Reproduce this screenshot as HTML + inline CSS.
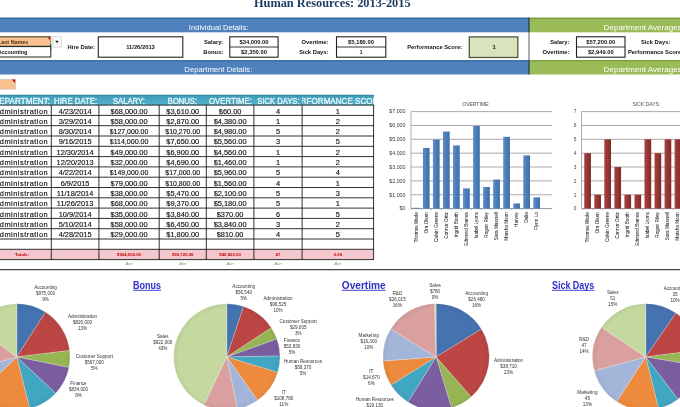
<!DOCTYPE html>
<html><head><meta charset="utf-8"><title>Human Resources: 2013-2015</title>
<style>html,body{margin:0;padding:0;background:#fff;overflow:hidden}svg{display:block;filter:blur(0.55px)}</style>
</head><body>
<svg width="680" height="407" viewBox="0 0 680 407">
<defs>
<linearGradient id="barb" x1="0" x2="1" y1="0" y2="0"><stop offset="0" stop-color="#5d8ec8"/><stop offset="0.5" stop-color="#4b7cb8"/><stop offset="1" stop-color="#3f6da6"/></linearGradient>
<linearGradient id="barr" x1="0" x2="1" y1="0" y2="0"><stop offset="0" stop-color="#a8413e"/><stop offset="0.5" stop-color="#943634"/><stop offset="1" stop-color="#7f2b29"/></linearGradient>
<radialGradient id="pieshade" cx="0.5" cy="0.5" r="0.5"><stop offset="0" stop-color="#000" stop-opacity="0"/><stop offset="0.9" stop-color="#000" stop-opacity="0"/><stop offset="1" stop-color="#000" stop-opacity="0.05"/></radialGradient>
<linearGradient id="hdr" x1="0" x2="0" y1="0" y2="1"><stop offset="0" stop-color="#3b9ab6"/><stop offset="1" stop-color="#56b3cd"/></linearGradient>
</defs>
<rect x="0.00" y="0.00" width="680.00" height="407.00" fill="#fff" stroke="none" stroke-width="1" />
<text x="332.30" y="7.40" font-size="12.33" text-anchor="middle" fill="#1f3a63" font-weight="bold" font-family='"Liberation Serif", serif' >Human Resources: 2013-2015</text>
<rect x="0.00" y="17.70" width="529.00" height="14.60" fill="#4f81bd" stroke="none" stroke-width="1" />
<rect x="0.00" y="60.30" width="529.00" height="14.20" fill="#4f81bd" stroke="none" stroke-width="1" />
<rect x="529.00" y="17.70" width="152.00" height="14.60" fill="#9bbb59" stroke="none" stroke-width="1" />
<rect x="529.00" y="60.30" width="152.00" height="14.20" fill="#9bbb59" stroke="none" stroke-width="1" />
<line x1="0.00" y1="18.20" x2="529.00" y2="18.20" stroke="#2f5d96" stroke-width="1.1"/>
<line x1="529.00" y1="18.20" x2="680.00" y2="18.20" stroke="#6f8f33" stroke-width="1.1"/>
<line x1="0.00" y1="60.80" x2="529.00" y2="60.80" stroke="#2f5d96" stroke-width="1.1"/>
<line x1="529.00" y1="60.80" x2="680.00" y2="60.80" stroke="#6f8f33" stroke-width="1.1"/>
<line x1="529.00" y1="17.50" x2="529.00" y2="32.30" stroke="#1f3a4f" stroke-width="1.2"/>
<line x1="529.00" y1="32.30" x2="529.00" y2="60.30" stroke="#777" stroke-width="1.2"/>
<line x1="529.00" y1="60.30" x2="529.00" y2="74.50" stroke="#1f3a4f" stroke-width="1.2"/>
<text x="218.60" y="30.40" font-size="7.6" text-anchor="middle" fill="#fff" font-weight="normal" font-family='"Liberation Sans", sans-serif' >Individual Details:</text>
<text x="218.30" y="71.80" font-size="7.7" text-anchor="middle" fill="#fff" font-weight="normal" font-family='"Liberation Sans", sans-serif' >Department Details:</text>
<text x="603.60" y="30.20" font-size="8.1" text-anchor="start" fill="#fff" font-weight="normal" font-family='"Liberation Sans", sans-serif' >Department Averages:</text>
<text x="603.60" y="71.70" font-size="8.1" text-anchor="start" fill="#fff" font-weight="normal" font-family='"Liberation Sans", sans-serif' >Department Averages:</text>
<rect x="-2.00" y="36.90" width="52.80" height="9.50" fill="#fac090" stroke="#8a7a5a" stroke-width="0.8" />
<line x1="0.00" y1="36.80" x2="50.80" y2="36.80" stroke="#4a5a2a" stroke-width="1.1"/>
<line x1="0.00" y1="46.40" x2="50.80" y2="46.40" stroke="#2f4f2a" stroke-width="1.2"/>
<path d="M47.2 37.5 h2.6 v2.6 z" fill="#c00000"/>
<rect x="-2.00" y="46.60" width="52.80" height="10.40" fill="#fff" stroke="#222" stroke-width="1" />
<line x1="50.60" y1="44.00" x2="50.60" y2="50.00" stroke="#1e6b2e" stroke-width="1.2"/>
<text x="28.30" y="44.00" font-size="5.4" text-anchor="end" fill="#4a2f10" font-weight="bold" font-family='"Liberation Sans", sans-serif' >Last Names</text>
<text x="27.30" y="54.30" font-size="5.4" text-anchor="end" fill="#111" font-weight="bold" font-family='"Liberation Sans", sans-serif' >Accounting</text>
<rect x="53.00" y="36.60" width="8.40" height="10.60" fill="#fafafa" stroke="#aaa" stroke-width="0.7" stroke-dasharray="1.2 0.8"/>
<path d="M55.2 40.8 h3.6 l-1.8 2.4 z" fill="#222"/>
<text x="95.00" y="48.70" font-size="5.8" text-anchor="end" fill="#111" font-weight="bold" font-family='"Liberation Sans", sans-serif' >Hire Date:</text>
<rect x="98.30" y="36.80" width="84.50" height="20.40" fill="#fff" stroke="#222" stroke-width="1.1" />
<text x="140.50" y="48.70" font-size="5.8" text-anchor="middle" fill="#111" font-weight="bold" font-family='"Liberation Sans", sans-serif' >11/26/2013</text>
<text x="223.30" y="44.00" font-size="5.8" text-anchor="end" fill="#111" font-weight="bold" font-family='"Liberation Sans", sans-serif' >Salary:</text>
<text x="223.30" y="54.20" font-size="5.8" text-anchor="end" fill="#111" font-weight="bold" font-family='"Liberation Sans", sans-serif' >Bonus:</text>
<rect x="229.80" y="36.80" width="48.30" height="20.40" fill="#fff" stroke="#222" stroke-width="1.1" />
<line x1="229.80" y1="47.00" x2="278.10" y2="47.00" stroke="#222" stroke-width="0.9"/>
<text x="254.00" y="44.00" font-size="5.8" text-anchor="middle" fill="#111" font-weight="bold" font-family='"Liberation Sans", sans-serif' >$34,000.00</text>
<text x="254.00" y="54.20" font-size="5.8" text-anchor="middle" fill="#111" font-weight="bold" font-family='"Liberation Sans", sans-serif' >$2,350.00</text>
<text x="328.50" y="44.00" font-size="5.8" text-anchor="end" fill="#111" font-weight="bold" font-family='"Liberation Sans", sans-serif' >Overtime:</text>
<text x="328.50" y="54.20" font-size="5.8" text-anchor="end" fill="#111" font-weight="bold" font-family='"Liberation Sans", sans-serif' >Sick Days:</text>
<rect x="336.50" y="36.80" width="49.30" height="20.40" fill="#fff" stroke="#222" stroke-width="1.1" />
<line x1="336.50" y1="47.00" x2="385.80" y2="47.00" stroke="#222" stroke-width="0.9"/>
<text x="361.00" y="44.00" font-size="5.8" text-anchor="middle" fill="#111" font-weight="bold" font-family='"Liberation Sans", sans-serif' >$5,180.00</text>
<text x="361.00" y="54.20" font-size="5.8" text-anchor="middle" fill="#1f3a63" font-weight="bold" font-family='"Liberation Sans", sans-serif' >1</text>
<text x="462.30" y="48.70" font-size="5.8" text-anchor="end" fill="#111" font-weight="bold" font-family='"Liberation Sans", sans-serif' >Performance Score:</text>
<rect x="469.30" y="36.90" width="48.50" height="20.60" fill="#d7e4bd" stroke="#4f5540" stroke-width="1.3" />
<text x="494.00" y="48.70" font-size="5.8" text-anchor="middle" fill="#111" font-weight="bold" font-family='"Liberation Sans", sans-serif' >1</text>
<text x="569.50" y="44.00" font-size="5.8" text-anchor="end" fill="#111" font-weight="bold" font-family='"Liberation Sans", sans-serif' >Salary:</text>
<text x="569.50" y="54.20" font-size="5.8" text-anchor="end" fill="#111" font-weight="bold" font-family='"Liberation Sans", sans-serif' >Overtime:</text>
<rect x="576.50" y="36.80" width="48.50" height="20.40" fill="#fff" stroke="#222" stroke-width="1.1" />
<line x1="576.50" y1="47.00" x2="625.00" y2="47.00" stroke="#222" stroke-width="0.9"/>
<text x="600.80" y="44.00" font-size="5.8" text-anchor="middle" fill="#111" font-weight="bold" font-family='"Liberation Sans", sans-serif' >$57,200.00</text>
<text x="600.80" y="54.20" font-size="5.8" text-anchor="middle" fill="#111" font-weight="bold" font-family='"Liberation Sans", sans-serif' >$2,949.00</text>
<text x="641.00" y="44.00" font-size="5.8" text-anchor="start" fill="#111" font-weight="bold" font-family='"Liberation Sans", sans-serif' >Sick Days:</text>
<text x="628.00" y="54.20" font-size="5.8" text-anchor="start" fill="#111" font-weight="bold" font-family='"Liberation Sans", sans-serif' >Performance Score:</text>
<rect x="-2.00" y="79.50" width="17.30" height="9.70" fill="#fac090" stroke="#bfbfbf" stroke-width="0.6" />
<path d="M11.8 79.6 h3.4 v3.4 z" fill="#c00000"/>
<rect x="0.00" y="94.90" width="373.90" height="10.20" fill="url(#hdr)" stroke="none" stroke-width="1" />
<line x1="0.00" y1="95.30" x2="373.90" y2="95.30" stroke="#31859c" stroke-width="0.8"/>
<clipPath id="hc"><rect x="0" y="90" width="374" height="20"/></clipPath>
<clipPath id="pc"><rect x="302.3" y="90" width="71.5" height="20"/></clipPath>
<text x="-6.50" y="104.20" font-size="8.6" text-anchor="start" fill="#eaf7fb" font-weight="normal" font-family='"Liberation Sans", sans-serif' textLength="56.5" lengthAdjust="spacingAndGlyphs" stroke="#eaf7fb" stroke-width="0.3" >DEPARTMENT:</text>
<text x="54.00" y="104.20" font-size="8.6" text-anchor="start" fill="#eaf7fb" font-weight="normal" font-family='"Liberation Sans", sans-serif' textLength="43.2" lengthAdjust="spacingAndGlyphs" stroke="#eaf7fb" stroke-width="0.3" >HIRE DATE:</text>
<text x="113.00" y="104.20" font-size="8.6" text-anchor="start" fill="#eaf7fb" font-weight="normal" font-family='"Liberation Sans", sans-serif' textLength="31.8" lengthAdjust="spacingAndGlyphs" stroke="#eaf7fb" stroke-width="0.3" >SALARY:</text>
<text x="167.80" y="104.20" font-size="8.6" text-anchor="start" fill="#eaf7fb" font-weight="normal" font-family='"Liberation Sans", sans-serif' textLength="29.2" lengthAdjust="spacingAndGlyphs" stroke="#eaf7fb" stroke-width="0.3" >BONUS:</text>
<text x="209.00" y="104.20" font-size="8.6" text-anchor="start" fill="#eaf7fb" font-weight="normal" font-family='"Liberation Sans", sans-serif' textLength="43.0" lengthAdjust="spacingAndGlyphs" stroke="#eaf7fb" stroke-width="0.3" >OVERTIME:</text>
<text x="257.30" y="104.20" font-size="8.6" text-anchor="start" fill="#eaf7fb" font-weight="normal" font-family='"Liberation Sans", sans-serif' textLength="42.3" lengthAdjust="spacingAndGlyphs" stroke="#eaf7fb" stroke-width="0.3" >SICK DAYS:</text>
<text x="290.00" y="104.20" font-size="8.6" text-anchor="start" fill="#eaf7fb" font-weight="normal" font-family='"Liberation Sans", sans-serif' textLength="96.0" lengthAdjust="spacingAndGlyphs" stroke="#eaf7fb" stroke-width="0.3" clip-path="url(#pc)">PERFORMANCE SCORE:</text>
<rect x="0.00" y="249.30" width="373.60" height="10.30" fill="#f4c6cd" stroke="none" stroke-width="1" />
<line x1="0.00" y1="105.10" x2="373.90" y2="105.10" stroke="#1a1a1a" stroke-width="0.9"/>
<line x1="0.00" y1="115.40" x2="373.90" y2="115.40" stroke="#1a1a1a" stroke-width="0.9"/>
<line x1="0.00" y1="125.70" x2="373.90" y2="125.70" stroke="#1a1a1a" stroke-width="0.9"/>
<line x1="0.00" y1="136.00" x2="373.90" y2="136.00" stroke="#1a1a1a" stroke-width="0.9"/>
<line x1="0.00" y1="146.30" x2="373.90" y2="146.30" stroke="#1a1a1a" stroke-width="0.9"/>
<line x1="0.00" y1="156.60" x2="373.90" y2="156.60" stroke="#1a1a1a" stroke-width="0.9"/>
<line x1="0.00" y1="166.90" x2="373.90" y2="166.90" stroke="#1a1a1a" stroke-width="0.9"/>
<line x1="0.00" y1="177.20" x2="373.90" y2="177.20" stroke="#1a1a1a" stroke-width="0.9"/>
<line x1="0.00" y1="187.50" x2="373.90" y2="187.50" stroke="#1a1a1a" stroke-width="0.9"/>
<line x1="0.00" y1="197.80" x2="373.90" y2="197.80" stroke="#1a1a1a" stroke-width="0.9"/>
<line x1="0.00" y1="208.10" x2="373.90" y2="208.10" stroke="#1a1a1a" stroke-width="0.9"/>
<line x1="0.00" y1="218.40" x2="373.90" y2="218.40" stroke="#1a1a1a" stroke-width="0.9"/>
<line x1="0.00" y1="228.70" x2="373.90" y2="228.70" stroke="#1a1a1a" stroke-width="0.9"/>
<line x1="0.00" y1="239.00" x2="373.90" y2="239.00" stroke="#1a1a1a" stroke-width="0.9"/>
<line x1="0.00" y1="249.30" x2="373.90" y2="249.30" stroke="#1a1a1a" stroke-width="0.9"/>
<line x1="0.00" y1="259.60" x2="373.90" y2="259.60" stroke="#1a1a1a" stroke-width="0.9"/>
<line x1="51.30" y1="105.10" x2="51.30" y2="259.60" stroke="#1a1a1a" stroke-width="0.9"/>
<line x1="98.90" y1="105.10" x2="98.90" y2="259.60" stroke="#1a1a1a" stroke-width="0.9"/>
<line x1="159.20" y1="105.10" x2="159.20" y2="259.60" stroke="#1a1a1a" stroke-width="0.9"/>
<line x1="206.30" y1="105.10" x2="206.30" y2="259.60" stroke="#1a1a1a" stroke-width="0.9"/>
<line x1="253.90" y1="105.10" x2="253.90" y2="259.60" stroke="#1a1a1a" stroke-width="0.9"/>
<line x1="302.10" y1="105.10" x2="302.10" y2="259.60" stroke="#1a1a1a" stroke-width="0.9"/>
<line x1="373.60" y1="105.10" x2="373.60" y2="259.60" stroke="#1a1a1a" stroke-width="0.9"/>
<text x="-5.60" y="113.50" font-size="7.4" text-anchor="start" fill="#111" font-weight="normal" font-family='"Liberation Sans", sans-serif' textLength="53.3" lengthAdjust="spacing" stroke="#111" stroke-width="0.15">Administration</text>
<text x="75.10" y="113.50" font-size="7.4" text-anchor="middle" fill="#111" font-weight="normal" font-family='"Liberation Sans", sans-serif' stroke="#111" stroke-width="0.15">4/23/2014</text>
<text x="129.05" y="113.50" font-size="7.4" text-anchor="middle" fill="#111" font-weight="normal" font-family='"Liberation Sans", sans-serif' stroke="#111" stroke-width="0.15">$68,000.00</text>
<text x="182.75" y="113.50" font-size="7.4" text-anchor="middle" fill="#111" font-weight="normal" font-family='"Liberation Sans", sans-serif' stroke="#111" stroke-width="0.15">$3,610.00</text>
<text x="230.10" y="113.50" font-size="7.4" text-anchor="middle" fill="#111" font-weight="normal" font-family='"Liberation Sans", sans-serif' stroke="#111" stroke-width="0.15">$60.00</text>
<text x="278.00" y="113.50" font-size="7.4" text-anchor="middle" fill="#111" font-weight="normal" font-family='"Liberation Sans", sans-serif' stroke="#111" stroke-width="0.15">4</text>
<text x="337.85" y="113.50" font-size="7.4" text-anchor="middle" fill="#111" font-weight="normal" font-family='"Liberation Sans", sans-serif' stroke="#111" stroke-width="0.15">1</text>
<text x="-5.60" y="123.80" font-size="7.4" text-anchor="start" fill="#111" font-weight="normal" font-family='"Liberation Sans", sans-serif' textLength="53.3" lengthAdjust="spacing" stroke="#111" stroke-width="0.15">Administration</text>
<text x="75.10" y="123.80" font-size="7.4" text-anchor="middle" fill="#111" font-weight="normal" font-family='"Liberation Sans", sans-serif' stroke="#111" stroke-width="0.15">3/29/2014</text>
<text x="129.05" y="123.80" font-size="7.4" text-anchor="middle" fill="#111" font-weight="normal" font-family='"Liberation Sans", sans-serif' stroke="#111" stroke-width="0.15">$58,000.00</text>
<text x="182.75" y="123.80" font-size="7.4" text-anchor="middle" fill="#111" font-weight="normal" font-family='"Liberation Sans", sans-serif' stroke="#111" stroke-width="0.15">$2,870.00</text>
<text x="230.10" y="123.80" font-size="7.4" text-anchor="middle" fill="#111" font-weight="normal" font-family='"Liberation Sans", sans-serif' stroke="#111" stroke-width="0.15">$4,380.00</text>
<text x="278.00" y="123.80" font-size="7.4" text-anchor="middle" fill="#111" font-weight="normal" font-family='"Liberation Sans", sans-serif' stroke="#111" stroke-width="0.15">1</text>
<text x="337.85" y="123.80" font-size="7.4" text-anchor="middle" fill="#111" font-weight="normal" font-family='"Liberation Sans", sans-serif' stroke="#111" stroke-width="0.15">2</text>
<text x="-5.60" y="134.10" font-size="7.4" text-anchor="start" fill="#111" font-weight="normal" font-family='"Liberation Sans", sans-serif' textLength="53.3" lengthAdjust="spacing" stroke="#111" stroke-width="0.15">Administration</text>
<text x="75.10" y="134.10" font-size="7.4" text-anchor="middle" fill="#111" font-weight="normal" font-family='"Liberation Sans", sans-serif' stroke="#111" stroke-width="0.15">8/30/2014</text>
<text x="129.05" y="134.10" font-size="7.4" text-anchor="middle" fill="#111" font-weight="normal" font-family='"Liberation Sans", sans-serif' stroke="#111" stroke-width="0.15" textLength="38.6" lengthAdjust="spacingAndGlyphs">$127,000.00</text>
<text x="182.75" y="134.10" font-size="7.4" text-anchor="middle" fill="#111" font-weight="normal" font-family='"Liberation Sans", sans-serif' stroke="#111" stroke-width="0.15" textLength="34.8" lengthAdjust="spacingAndGlyphs">$10,270.00</text>
<text x="230.10" y="134.10" font-size="7.4" text-anchor="middle" fill="#111" font-weight="normal" font-family='"Liberation Sans", sans-serif' stroke="#111" stroke-width="0.15">$4,980.00</text>
<text x="278.00" y="134.10" font-size="7.4" text-anchor="middle" fill="#111" font-weight="normal" font-family='"Liberation Sans", sans-serif' stroke="#111" stroke-width="0.15">5</text>
<text x="337.85" y="134.10" font-size="7.4" text-anchor="middle" fill="#111" font-weight="normal" font-family='"Liberation Sans", sans-serif' stroke="#111" stroke-width="0.15">2</text>
<text x="-5.60" y="144.40" font-size="7.4" text-anchor="start" fill="#111" font-weight="normal" font-family='"Liberation Sans", sans-serif' textLength="53.3" lengthAdjust="spacing" stroke="#111" stroke-width="0.15">Administration</text>
<text x="75.10" y="144.40" font-size="7.4" text-anchor="middle" fill="#111" font-weight="normal" font-family='"Liberation Sans", sans-serif' stroke="#111" stroke-width="0.15">9/16/2015</text>
<text x="129.05" y="144.40" font-size="7.4" text-anchor="middle" fill="#111" font-weight="normal" font-family='"Liberation Sans", sans-serif' stroke="#111" stroke-width="0.15" textLength="38.6" lengthAdjust="spacingAndGlyphs">$114,000.00</text>
<text x="182.75" y="144.40" font-size="7.4" text-anchor="middle" fill="#111" font-weight="normal" font-family='"Liberation Sans", sans-serif' stroke="#111" stroke-width="0.15">$7,650.00</text>
<text x="230.10" y="144.40" font-size="7.4" text-anchor="middle" fill="#111" font-weight="normal" font-family='"Liberation Sans", sans-serif' stroke="#111" stroke-width="0.15">$5,560.00</text>
<text x="278.00" y="144.40" font-size="7.4" text-anchor="middle" fill="#111" font-weight="normal" font-family='"Liberation Sans", sans-serif' stroke="#111" stroke-width="0.15">3</text>
<text x="337.85" y="144.40" font-size="7.4" text-anchor="middle" fill="#111" font-weight="normal" font-family='"Liberation Sans", sans-serif' stroke="#111" stroke-width="0.15">5</text>
<text x="-5.60" y="154.70" font-size="7.4" text-anchor="start" fill="#111" font-weight="normal" font-family='"Liberation Sans", sans-serif' textLength="53.3" lengthAdjust="spacing" stroke="#111" stroke-width="0.15">Administration</text>
<text x="75.10" y="154.70" font-size="7.4" text-anchor="middle" fill="#111" font-weight="normal" font-family='"Liberation Sans", sans-serif' stroke="#111" stroke-width="0.15">12/30/2014</text>
<text x="129.05" y="154.70" font-size="7.4" text-anchor="middle" fill="#111" font-weight="normal" font-family='"Liberation Sans", sans-serif' stroke="#111" stroke-width="0.15">$49,000.00</text>
<text x="182.75" y="154.70" font-size="7.4" text-anchor="middle" fill="#111" font-weight="normal" font-family='"Liberation Sans", sans-serif' stroke="#111" stroke-width="0.15">$6,900.00</text>
<text x="230.10" y="154.70" font-size="7.4" text-anchor="middle" fill="#111" font-weight="normal" font-family='"Liberation Sans", sans-serif' stroke="#111" stroke-width="0.15">$4,560.00</text>
<text x="278.00" y="154.70" font-size="7.4" text-anchor="middle" fill="#111" font-weight="normal" font-family='"Liberation Sans", sans-serif' stroke="#111" stroke-width="0.15">1</text>
<text x="337.85" y="154.70" font-size="7.4" text-anchor="middle" fill="#111" font-weight="normal" font-family='"Liberation Sans", sans-serif' stroke="#111" stroke-width="0.15">2</text>
<text x="-5.60" y="165.00" font-size="7.4" text-anchor="start" fill="#111" font-weight="normal" font-family='"Liberation Sans", sans-serif' textLength="53.3" lengthAdjust="spacing" stroke="#111" stroke-width="0.15">Administration</text>
<text x="75.10" y="165.00" font-size="7.4" text-anchor="middle" fill="#111" font-weight="normal" font-family='"Liberation Sans", sans-serif' stroke="#111" stroke-width="0.15">12/20/2013</text>
<text x="129.05" y="165.00" font-size="7.4" text-anchor="middle" fill="#111" font-weight="normal" font-family='"Liberation Sans", sans-serif' stroke="#111" stroke-width="0.15">$32,000.00</text>
<text x="182.75" y="165.00" font-size="7.4" text-anchor="middle" fill="#111" font-weight="normal" font-family='"Liberation Sans", sans-serif' stroke="#111" stroke-width="0.15">$4,690.00</text>
<text x="230.10" y="165.00" font-size="7.4" text-anchor="middle" fill="#111" font-weight="normal" font-family='"Liberation Sans", sans-serif' stroke="#111" stroke-width="0.15">$1,460.00</text>
<text x="278.00" y="165.00" font-size="7.4" text-anchor="middle" fill="#111" font-weight="normal" font-family='"Liberation Sans", sans-serif' stroke="#111" stroke-width="0.15">1</text>
<text x="337.85" y="165.00" font-size="7.4" text-anchor="middle" fill="#111" font-weight="normal" font-family='"Liberation Sans", sans-serif' stroke="#111" stroke-width="0.15">2</text>
<text x="-5.60" y="175.30" font-size="7.4" text-anchor="start" fill="#111" font-weight="normal" font-family='"Liberation Sans", sans-serif' textLength="53.3" lengthAdjust="spacing" stroke="#111" stroke-width="0.15">Administration</text>
<text x="75.10" y="175.30" font-size="7.4" text-anchor="middle" fill="#111" font-weight="normal" font-family='"Liberation Sans", sans-serif' stroke="#111" stroke-width="0.15">4/22/2014</text>
<text x="129.05" y="175.30" font-size="7.4" text-anchor="middle" fill="#111" font-weight="normal" font-family='"Liberation Sans", sans-serif' stroke="#111" stroke-width="0.15" textLength="38.6" lengthAdjust="spacingAndGlyphs">$149,000.00</text>
<text x="182.75" y="175.30" font-size="7.4" text-anchor="middle" fill="#111" font-weight="normal" font-family='"Liberation Sans", sans-serif' stroke="#111" stroke-width="0.15" textLength="34.8" lengthAdjust="spacingAndGlyphs">$17,000.00</text>
<text x="230.10" y="175.30" font-size="7.4" text-anchor="middle" fill="#111" font-weight="normal" font-family='"Liberation Sans", sans-serif' stroke="#111" stroke-width="0.15">$5,960.00</text>
<text x="278.00" y="175.30" font-size="7.4" text-anchor="middle" fill="#111" font-weight="normal" font-family='"Liberation Sans", sans-serif' stroke="#111" stroke-width="0.15">5</text>
<text x="337.85" y="175.30" font-size="7.4" text-anchor="middle" fill="#111" font-weight="normal" font-family='"Liberation Sans", sans-serif' stroke="#111" stroke-width="0.15">4</text>
<text x="-5.60" y="185.60" font-size="7.4" text-anchor="start" fill="#111" font-weight="normal" font-family='"Liberation Sans", sans-serif' textLength="53.3" lengthAdjust="spacing" stroke="#111" stroke-width="0.15">Administration</text>
<text x="75.10" y="185.60" font-size="7.4" text-anchor="middle" fill="#111" font-weight="normal" font-family='"Liberation Sans", sans-serif' stroke="#111" stroke-width="0.15">6/9/2015</text>
<text x="129.05" y="185.60" font-size="7.4" text-anchor="middle" fill="#111" font-weight="normal" font-family='"Liberation Sans", sans-serif' stroke="#111" stroke-width="0.15">$79,000.00</text>
<text x="182.75" y="185.60" font-size="7.4" text-anchor="middle" fill="#111" font-weight="normal" font-family='"Liberation Sans", sans-serif' stroke="#111" stroke-width="0.15" textLength="34.8" lengthAdjust="spacingAndGlyphs">$10,800.00</text>
<text x="230.10" y="185.60" font-size="7.4" text-anchor="middle" fill="#111" font-weight="normal" font-family='"Liberation Sans", sans-serif' stroke="#111" stroke-width="0.15">$1,560.00</text>
<text x="278.00" y="185.60" font-size="7.4" text-anchor="middle" fill="#111" font-weight="normal" font-family='"Liberation Sans", sans-serif' stroke="#111" stroke-width="0.15">4</text>
<text x="337.85" y="185.60" font-size="7.4" text-anchor="middle" fill="#111" font-weight="normal" font-family='"Liberation Sans", sans-serif' stroke="#111" stroke-width="0.15">1</text>
<text x="-5.60" y="195.90" font-size="7.4" text-anchor="start" fill="#111" font-weight="normal" font-family='"Liberation Sans", sans-serif' textLength="53.3" lengthAdjust="spacing" stroke="#111" stroke-width="0.15">Administration</text>
<text x="75.10" y="195.90" font-size="7.4" text-anchor="middle" fill="#111" font-weight="normal" font-family='"Liberation Sans", sans-serif' stroke="#111" stroke-width="0.15">11/18/2014</text>
<text x="129.05" y="195.90" font-size="7.4" text-anchor="middle" fill="#111" font-weight="normal" font-family='"Liberation Sans", sans-serif' stroke="#111" stroke-width="0.15">$38,000.00</text>
<text x="182.75" y="195.90" font-size="7.4" text-anchor="middle" fill="#111" font-weight="normal" font-family='"Liberation Sans", sans-serif' stroke="#111" stroke-width="0.15">$5,470.00</text>
<text x="230.10" y="195.90" font-size="7.4" text-anchor="middle" fill="#111" font-weight="normal" font-family='"Liberation Sans", sans-serif' stroke="#111" stroke-width="0.15">$2,100.00</text>
<text x="278.00" y="195.90" font-size="7.4" text-anchor="middle" fill="#111" font-weight="normal" font-family='"Liberation Sans", sans-serif' stroke="#111" stroke-width="0.15">5</text>
<text x="337.85" y="195.90" font-size="7.4" text-anchor="middle" fill="#111" font-weight="normal" font-family='"Liberation Sans", sans-serif' stroke="#111" stroke-width="0.15">3</text>
<text x="-5.60" y="206.20" font-size="7.4" text-anchor="start" fill="#111" font-weight="normal" font-family='"Liberation Sans", sans-serif' textLength="53.3" lengthAdjust="spacing" stroke="#111" stroke-width="0.15">Administration</text>
<text x="75.10" y="206.20" font-size="7.4" text-anchor="middle" fill="#111" font-weight="normal" font-family='"Liberation Sans", sans-serif' stroke="#111" stroke-width="0.15">11/26/2013</text>
<text x="129.05" y="206.20" font-size="7.4" text-anchor="middle" fill="#111" font-weight="normal" font-family='"Liberation Sans", sans-serif' stroke="#111" stroke-width="0.15">$68,000.00</text>
<text x="182.75" y="206.20" font-size="7.4" text-anchor="middle" fill="#111" font-weight="normal" font-family='"Liberation Sans", sans-serif' stroke="#111" stroke-width="0.15">$9,370.00</text>
<text x="230.10" y="206.20" font-size="7.4" text-anchor="middle" fill="#111" font-weight="normal" font-family='"Liberation Sans", sans-serif' stroke="#111" stroke-width="0.15">$5,180.00</text>
<text x="278.00" y="206.20" font-size="7.4" text-anchor="middle" fill="#111" font-weight="normal" font-family='"Liberation Sans", sans-serif' stroke="#111" stroke-width="0.15">5</text>
<text x="337.85" y="206.20" font-size="7.4" text-anchor="middle" fill="#111" font-weight="normal" font-family='"Liberation Sans", sans-serif' stroke="#111" stroke-width="0.15">1</text>
<text x="-5.60" y="216.50" font-size="7.4" text-anchor="start" fill="#111" font-weight="normal" font-family='"Liberation Sans", sans-serif' textLength="53.3" lengthAdjust="spacing" stroke="#111" stroke-width="0.15">Administration</text>
<text x="75.10" y="216.50" font-size="7.4" text-anchor="middle" fill="#111" font-weight="normal" font-family='"Liberation Sans", sans-serif' stroke="#111" stroke-width="0.15">10/9/2014</text>
<text x="129.05" y="216.50" font-size="7.4" text-anchor="middle" fill="#111" font-weight="normal" font-family='"Liberation Sans", sans-serif' stroke="#111" stroke-width="0.15">$35,000.00</text>
<text x="182.75" y="216.50" font-size="7.4" text-anchor="middle" fill="#111" font-weight="normal" font-family='"Liberation Sans", sans-serif' stroke="#111" stroke-width="0.15">$3,840.00</text>
<text x="230.10" y="216.50" font-size="7.4" text-anchor="middle" fill="#111" font-weight="normal" font-family='"Liberation Sans", sans-serif' stroke="#111" stroke-width="0.15">$370.00</text>
<text x="278.00" y="216.50" font-size="7.4" text-anchor="middle" fill="#111" font-weight="normal" font-family='"Liberation Sans", sans-serif' stroke="#111" stroke-width="0.15">6</text>
<text x="337.85" y="216.50" font-size="7.4" text-anchor="middle" fill="#111" font-weight="normal" font-family='"Liberation Sans", sans-serif' stroke="#111" stroke-width="0.15">5</text>
<text x="-5.60" y="226.80" font-size="7.4" text-anchor="start" fill="#111" font-weight="normal" font-family='"Liberation Sans", sans-serif' textLength="53.3" lengthAdjust="spacing" stroke="#111" stroke-width="0.15">Administration</text>
<text x="75.10" y="226.80" font-size="7.4" text-anchor="middle" fill="#111" font-weight="normal" font-family='"Liberation Sans", sans-serif' stroke="#111" stroke-width="0.15">5/10/2014</text>
<text x="129.05" y="226.80" font-size="7.4" text-anchor="middle" fill="#111" font-weight="normal" font-family='"Liberation Sans", sans-serif' stroke="#111" stroke-width="0.15">$58,000.00</text>
<text x="182.75" y="226.80" font-size="7.4" text-anchor="middle" fill="#111" font-weight="normal" font-family='"Liberation Sans", sans-serif' stroke="#111" stroke-width="0.15">$6,450.00</text>
<text x="230.10" y="226.80" font-size="7.4" text-anchor="middle" fill="#111" font-weight="normal" font-family='"Liberation Sans", sans-serif' stroke="#111" stroke-width="0.15">$3,840.00</text>
<text x="278.00" y="226.80" font-size="7.4" text-anchor="middle" fill="#111" font-weight="normal" font-family='"Liberation Sans", sans-serif' stroke="#111" stroke-width="0.15">3</text>
<text x="337.85" y="226.80" font-size="7.4" text-anchor="middle" fill="#111" font-weight="normal" font-family='"Liberation Sans", sans-serif' stroke="#111" stroke-width="0.15">2</text>
<text x="-5.60" y="237.10" font-size="7.4" text-anchor="start" fill="#111" font-weight="normal" font-family='"Liberation Sans", sans-serif' textLength="53.3" lengthAdjust="spacing" stroke="#111" stroke-width="0.15">Administration</text>
<text x="75.10" y="237.10" font-size="7.4" text-anchor="middle" fill="#111" font-weight="normal" font-family='"Liberation Sans", sans-serif' stroke="#111" stroke-width="0.15">4/28/2015</text>
<text x="129.05" y="237.10" font-size="7.4" text-anchor="middle" fill="#111" font-weight="normal" font-family='"Liberation Sans", sans-serif' stroke="#111" stroke-width="0.15">$29,000.00</text>
<text x="182.75" y="237.10" font-size="7.4" text-anchor="middle" fill="#111" font-weight="normal" font-family='"Liberation Sans", sans-serif' stroke="#111" stroke-width="0.15">$1,800.00</text>
<text x="230.10" y="237.10" font-size="7.4" text-anchor="middle" fill="#111" font-weight="normal" font-family='"Liberation Sans", sans-serif' stroke="#111" stroke-width="0.15">$810.00</text>
<text x="278.00" y="237.10" font-size="7.4" text-anchor="middle" fill="#111" font-weight="normal" font-family='"Liberation Sans", sans-serif' stroke="#111" stroke-width="0.15">4</text>
<text x="337.85" y="237.10" font-size="7.4" text-anchor="middle" fill="#111" font-weight="normal" font-family='"Liberation Sans", sans-serif' stroke="#111" stroke-width="0.15">5</text>
<text x="22.00" y="256.20" font-size="4.3" text-anchor="middle" fill="#c00000" font-weight="bold" font-family='"Liberation Sans", sans-serif' >Totals:</text>
<text x="129.05" y="256.20" font-size="4.3" text-anchor="middle" fill="#c00000" font-weight="bold" font-family='"Liberation Sans", sans-serif' >$904,000.00</text>
<text x="182.75" y="256.20" font-size="4.3" text-anchor="middle" fill="#c00000" font-weight="bold" font-family='"Liberation Sans", sans-serif' >$90,720.00</text>
<text x="230.10" y="256.20" font-size="4.3" text-anchor="middle" fill="#c00000" font-weight="bold" font-family='"Liberation Sans", sans-serif' >$40,820.00</text>
<text x="278.00" y="256.20" font-size="4.3" text-anchor="middle" fill="#c00000" font-weight="bold" font-family='"Liberation Sans", sans-serif' >47</text>
<text x="337.85" y="256.20" font-size="4.3" text-anchor="middle" fill="#c00000" font-weight="bold" font-family='"Liberation Sans", sans-serif' >2.69</text>
<text x="129.05" y="265.30" font-size="4" text-anchor="middle" fill="#77933c" font-weight="normal" font-family='"Liberation Sans", sans-serif' font-style="italic">Ave</text>
<text x="182.75" y="265.30" font-size="4" text-anchor="middle" fill="#77933c" font-weight="normal" font-family='"Liberation Sans", sans-serif' font-style="italic">Ave</text>
<text x="230.10" y="265.30" font-size="4" text-anchor="middle" fill="#77933c" font-weight="normal" font-family='"Liberation Sans", sans-serif' font-style="italic">Ave</text>
<text x="278.00" y="265.30" font-size="4" text-anchor="middle" fill="#77933c" font-weight="normal" font-family='"Liberation Sans", sans-serif' font-style="italic">Ave</text>
<text x="337.85" y="265.30" font-size="4" text-anchor="middle" fill="#77933c" font-weight="normal" font-family='"Liberation Sans", sans-serif' font-style="italic">Ave</text>
<line x1="0.00" y1="269.60" x2="680.00" y2="269.60" stroke="#444" stroke-width="1.1"/>
<clipPath id="c1"><rect x="0" y="0" width="680" height="407"/></clipPath>
<line x1="411.00" y1="208.60" x2="552.00" y2="208.60" stroke="#8a8a8a" stroke-width="0.9"/>
<text x="405.50" y="210.40" font-size="5.3" text-anchor="end" fill="#3a3a3a" font-weight="normal" font-family='"Liberation Sans", sans-serif' >$0</text>
<line x1="411.00" y1="194.74" x2="552.00" y2="194.74" stroke="#a2a2a2" stroke-width="0.9"/>
<text x="405.50" y="196.54" font-size="5.3" text-anchor="end" fill="#3a3a3a" font-weight="normal" font-family='"Liberation Sans", sans-serif' >$1,000</text>
<line x1="411.00" y1="180.89" x2="552.00" y2="180.89" stroke="#a2a2a2" stroke-width="0.9"/>
<text x="405.50" y="182.69" font-size="5.3" text-anchor="end" fill="#3a3a3a" font-weight="normal" font-family='"Liberation Sans", sans-serif' >$2,000</text>
<line x1="411.00" y1="167.03" x2="552.00" y2="167.03" stroke="#a2a2a2" stroke-width="0.9"/>
<text x="405.50" y="168.83" font-size="5.3" text-anchor="end" fill="#3a3a3a" font-weight="normal" font-family='"Liberation Sans", sans-serif' >$3,000</text>
<line x1="411.00" y1="153.17" x2="552.00" y2="153.17" stroke="#a2a2a2" stroke-width="0.9"/>
<text x="405.50" y="154.97" font-size="5.3" text-anchor="end" fill="#3a3a3a" font-weight="normal" font-family='"Liberation Sans", sans-serif' >$4,000</text>
<line x1="411.00" y1="139.31" x2="552.00" y2="139.31" stroke="#a2a2a2" stroke-width="0.9"/>
<text x="405.50" y="141.11" font-size="5.3" text-anchor="end" fill="#3a3a3a" font-weight="normal" font-family='"Liberation Sans", sans-serif' >$5,000</text>
<line x1="411.00" y1="125.46" x2="552.00" y2="125.46" stroke="#a2a2a2" stroke-width="0.9"/>
<text x="405.50" y="127.26" font-size="5.3" text-anchor="end" fill="#3a3a3a" font-weight="normal" font-family='"Liberation Sans", sans-serif' >$6,000</text>
<line x1="411.00" y1="111.60" x2="552.00" y2="111.60" stroke="#a2a2a2" stroke-width="0.9"/>
<text x="405.50" y="113.40" font-size="5.3" text-anchor="end" fill="#3a3a3a" font-weight="normal" font-family='"Liberation Sans", sans-serif' >$7,000</text>
<line x1="411.00" y1="111.60" x2="411.00" y2="208.60" stroke="#9a9a9a" stroke-width="0.8"/>
<rect x="412.85" y="207.77" width="6.70" height="0.83" fill="url(#barb)" stroke="none" stroke-width="1" />
<text transform="translate(417.70,212.10) rotate(-90)" font-size="4.7" text-anchor="end" fill="#000" font-family='"Liberation Sans", sans-serif'>Thomas Wade</text>
<line x1="411.18" y1="208.60" x2="411.18" y2="210.10" stroke="#8a8a8a" stroke-width="0.6"/>
<rect x="422.89" y="147.91" width="6.70" height="60.69" fill="url(#barb)" stroke="none" stroke-width="1" />
<text transform="translate(427.74,212.10) rotate(-90)" font-size="4.7" text-anchor="end" fill="#000" font-family='"Liberation Sans", sans-serif'>Ora Olsen</text>
<line x1="421.22" y1="208.60" x2="421.22" y2="210.10" stroke="#8a8a8a" stroke-width="0.6"/>
<rect x="432.93" y="139.59" width="6.70" height="69.01" fill="url(#barb)" stroke="none" stroke-width="1" />
<text transform="translate(437.78,212.10) rotate(-90)" font-size="4.7" text-anchor="end" fill="#000" font-family='"Liberation Sans", sans-serif'>Calvin Greene</text>
<line x1="431.26" y1="208.60" x2="431.26" y2="210.10" stroke="#8a8a8a" stroke-width="0.6"/>
<rect x="442.97" y="131.55" width="6.70" height="77.05" fill="url(#barb)" stroke="none" stroke-width="1" />
<text transform="translate(447.82,212.10) rotate(-90)" font-size="4.7" text-anchor="end" fill="#000" font-family='"Liberation Sans", sans-serif'>Connor Ortiz</text>
<line x1="441.30" y1="208.60" x2="441.30" y2="210.10" stroke="#8a8a8a" stroke-width="0.6"/>
<rect x="453.01" y="145.41" width="6.70" height="63.19" fill="url(#barb)" stroke="none" stroke-width="1" />
<text transform="translate(457.86,212.10) rotate(-90)" font-size="4.7" text-anchor="end" fill="#000" font-family='"Liberation Sans", sans-serif'>Ingrid Booth</text>
<line x1="451.34" y1="208.60" x2="451.34" y2="210.10" stroke="#8a8a8a" stroke-width="0.6"/>
<rect x="463.05" y="188.37" width="6.70" height="20.23" fill="url(#barb)" stroke="none" stroke-width="1" />
<text transform="translate(467.90,212.10) rotate(-90)" font-size="4.7" text-anchor="end" fill="#000" font-family='"Liberation Sans", sans-serif'>Edmund Barnes</text>
<line x1="461.38" y1="208.60" x2="461.38" y2="210.10" stroke="#8a8a8a" stroke-width="0.6"/>
<rect x="473.09" y="126.01" width="6.70" height="82.59" fill="url(#barb)" stroke="none" stroke-width="1" />
<text transform="translate(477.94,212.10) rotate(-90)" font-size="4.7" text-anchor="end" fill="#000" font-family='"Liberation Sans", sans-serif'>Isabel Lyons</text>
<line x1="471.42" y1="208.60" x2="471.42" y2="210.10" stroke="#8a8a8a" stroke-width="0.6"/>
<rect x="483.13" y="186.98" width="6.70" height="21.62" fill="url(#barb)" stroke="none" stroke-width="1" />
<text transform="translate(487.98,212.10) rotate(-90)" font-size="4.7" text-anchor="end" fill="#000" font-family='"Liberation Sans", sans-serif'>Rogan Riley</text>
<line x1="481.46" y1="208.60" x2="481.46" y2="210.10" stroke="#8a8a8a" stroke-width="0.6"/>
<rect x="493.17" y="179.50" width="6.70" height="29.10" fill="url(#barb)" stroke="none" stroke-width="1" />
<text transform="translate(498.02,212.10) rotate(-90)" font-size="4.7" text-anchor="end" fill="#000" font-family='"Liberation Sans", sans-serif'>Sara Maxwell</text>
<line x1="491.50" y1="208.60" x2="491.50" y2="210.10" stroke="#8a8a8a" stroke-width="0.6"/>
<rect x="503.21" y="136.82" width="6.70" height="71.78" fill="url(#barb)" stroke="none" stroke-width="1" />
<text transform="translate(508.06,212.10) rotate(-90)" font-size="4.7" text-anchor="end" fill="#000" font-family='"Liberation Sans", sans-serif'>Marsha Moon</text>
<line x1="501.54" y1="208.60" x2="501.54" y2="210.10" stroke="#8a8a8a" stroke-width="0.6"/>
<rect x="513.25" y="203.47" width="6.70" height="5.13" fill="url(#barb)" stroke="none" stroke-width="1" />
<text transform="translate(518.10,212.10) rotate(-90)" font-size="4.7" text-anchor="end" fill="#000" font-family='"Liberation Sans", sans-serif'>Harvey</text>
<line x1="511.58" y1="208.60" x2="511.58" y2="210.10" stroke="#8a8a8a" stroke-width="0.6"/>
<rect x="523.29" y="155.39" width="6.70" height="53.21" fill="url(#barb)" stroke="none" stroke-width="1" />
<text transform="translate(528.14,212.10) rotate(-90)" font-size="4.7" text-anchor="end" fill="#000" font-family='"Liberation Sans", sans-serif'>Dalia</text>
<line x1="521.62" y1="208.60" x2="521.62" y2="210.10" stroke="#8a8a8a" stroke-width="0.6"/>
<rect x="533.33" y="197.38" width="6.70" height="11.22" fill="url(#barb)" stroke="none" stroke-width="1" />
<text transform="translate(538.18,212.10) rotate(-90)" font-size="4.7" text-anchor="end" fill="#000" font-family='"Liberation Sans", sans-serif'>Flynn Lo</text>
<line x1="531.66" y1="208.60" x2="531.66" y2="210.10" stroke="#8a8a8a" stroke-width="0.6"/>
<text x="476.00" y="105.90" font-size="5.0" text-anchor="middle" fill="#4a4a4a" font-weight="normal" font-family='"Liberation Sans", sans-serif' >OVERTIME:</text>
<clipPath id="c2"><rect x="0" y="0" width="680" height="407"/></clipPath>
<line x1="581.50" y1="208.60" x2="690.00" y2="208.60" stroke="#8a8a8a" stroke-width="0.9"/>
<text x="576.30" y="210.40" font-size="4.8" text-anchor="end" fill="#3a3a3a" font-weight="normal" font-family='"Liberation Sans", sans-serif' >0</text>
<line x1="581.50" y1="194.74" x2="690.00" y2="194.74" stroke="#a2a2a2" stroke-width="0.9"/>
<text x="576.30" y="196.54" font-size="4.8" text-anchor="end" fill="#3a3a3a" font-weight="normal" font-family='"Liberation Sans", sans-serif' >1</text>
<line x1="581.50" y1="180.89" x2="690.00" y2="180.89" stroke="#a2a2a2" stroke-width="0.9"/>
<text x="576.30" y="182.69" font-size="4.8" text-anchor="end" fill="#3a3a3a" font-weight="normal" font-family='"Liberation Sans", sans-serif' >2</text>
<line x1="581.50" y1="167.03" x2="690.00" y2="167.03" stroke="#a2a2a2" stroke-width="0.9"/>
<text x="576.30" y="168.83" font-size="4.8" text-anchor="end" fill="#3a3a3a" font-weight="normal" font-family='"Liberation Sans", sans-serif' >3</text>
<line x1="581.50" y1="153.17" x2="690.00" y2="153.17" stroke="#a2a2a2" stroke-width="0.9"/>
<text x="576.30" y="154.97" font-size="4.8" text-anchor="end" fill="#3a3a3a" font-weight="normal" font-family='"Liberation Sans", sans-serif' >4</text>
<line x1="581.50" y1="139.31" x2="690.00" y2="139.31" stroke="#a2a2a2" stroke-width="0.9"/>
<text x="576.30" y="141.11" font-size="4.8" text-anchor="end" fill="#3a3a3a" font-weight="normal" font-family='"Liberation Sans", sans-serif' >5</text>
<line x1="581.50" y1="125.46" x2="690.00" y2="125.46" stroke="#a2a2a2" stroke-width="0.9"/>
<text x="576.30" y="127.26" font-size="4.8" text-anchor="end" fill="#3a3a3a" font-weight="normal" font-family='"Liberation Sans", sans-serif' >6</text>
<line x1="581.50" y1="111.60" x2="690.00" y2="111.60" stroke="#a2a2a2" stroke-width="0.9"/>
<text x="576.30" y="113.40" font-size="4.8" text-anchor="end" fill="#3a3a3a" font-weight="normal" font-family='"Liberation Sans", sans-serif' >7</text>
<line x1="581.50" y1="111.60" x2="581.50" y2="208.60" stroke="#9a9a9a" stroke-width="0.8"/>
<rect x="584.25" y="153.17" width="6.70" height="55.43" fill="url(#barr)" stroke="none" stroke-width="1" />
<text transform="translate(589.10,212.10) rotate(-90)" font-size="4.7" text-anchor="end" fill="#000" font-family='"Liberation Sans", sans-serif'>Thomas Wade</text>
<line x1="582.58" y1="208.60" x2="582.58" y2="210.10" stroke="#8a8a8a" stroke-width="0.6"/>
<rect x="594.29" y="194.74" width="6.70" height="13.86" fill="url(#barr)" stroke="none" stroke-width="1" />
<text transform="translate(599.14,212.10) rotate(-90)" font-size="4.7" text-anchor="end" fill="#000" font-family='"Liberation Sans", sans-serif'>Ora Olsen</text>
<line x1="592.62" y1="208.60" x2="592.62" y2="210.10" stroke="#8a8a8a" stroke-width="0.6"/>
<rect x="604.33" y="139.31" width="6.70" height="69.29" fill="url(#barr)" stroke="none" stroke-width="1" />
<text transform="translate(609.18,212.10) rotate(-90)" font-size="4.7" text-anchor="end" fill="#000" font-family='"Liberation Sans", sans-serif'>Calvin Greene</text>
<line x1="602.66" y1="208.60" x2="602.66" y2="210.10" stroke="#8a8a8a" stroke-width="0.6"/>
<rect x="614.37" y="167.03" width="6.70" height="41.57" fill="url(#barr)" stroke="none" stroke-width="1" />
<text transform="translate(619.22,212.10) rotate(-90)" font-size="4.7" text-anchor="end" fill="#000" font-family='"Liberation Sans", sans-serif'>Connor Ortiz</text>
<line x1="612.70" y1="208.60" x2="612.70" y2="210.10" stroke="#8a8a8a" stroke-width="0.6"/>
<rect x="624.41" y="194.74" width="6.70" height="13.86" fill="url(#barr)" stroke="none" stroke-width="1" />
<text transform="translate(629.26,212.10) rotate(-90)" font-size="4.7" text-anchor="end" fill="#000" font-family='"Liberation Sans", sans-serif'>Ingrid Booth</text>
<line x1="622.74" y1="208.60" x2="622.74" y2="210.10" stroke="#8a8a8a" stroke-width="0.6"/>
<rect x="634.45" y="194.74" width="6.70" height="13.86" fill="url(#barr)" stroke="none" stroke-width="1" />
<text transform="translate(639.30,212.10) rotate(-90)" font-size="4.7" text-anchor="end" fill="#000" font-family='"Liberation Sans", sans-serif'>Edmund Barnes</text>
<line x1="632.78" y1="208.60" x2="632.78" y2="210.10" stroke="#8a8a8a" stroke-width="0.6"/>
<rect x="644.49" y="139.31" width="6.70" height="69.29" fill="url(#barr)" stroke="none" stroke-width="1" />
<text transform="translate(649.34,212.10) rotate(-90)" font-size="4.7" text-anchor="end" fill="#000" font-family='"Liberation Sans", sans-serif'>Isabel Lyons</text>
<line x1="642.82" y1="208.60" x2="642.82" y2="210.10" stroke="#8a8a8a" stroke-width="0.6"/>
<rect x="654.53" y="153.17" width="6.70" height="55.43" fill="url(#barr)" stroke="none" stroke-width="1" />
<text transform="translate(659.38,212.10) rotate(-90)" font-size="4.7" text-anchor="end" fill="#000" font-family='"Liberation Sans", sans-serif'>Rogan Riley</text>
<line x1="652.86" y1="208.60" x2="652.86" y2="210.10" stroke="#8a8a8a" stroke-width="0.6"/>
<rect x="664.57" y="139.31" width="6.70" height="69.29" fill="url(#barr)" stroke="none" stroke-width="1" />
<text transform="translate(669.42,212.10) rotate(-90)" font-size="4.7" text-anchor="end" fill="#000" font-family='"Liberation Sans", sans-serif'>Sara Maxwell</text>
<line x1="662.90" y1="208.60" x2="662.90" y2="210.10" stroke="#8a8a8a" stroke-width="0.6"/>
<rect x="674.61" y="139.31" width="6.70" height="69.29" fill="url(#barr)" stroke="none" stroke-width="1" />
<text transform="translate(679.46,212.10) rotate(-90)" font-size="4.7" text-anchor="end" fill="#000" font-family='"Liberation Sans", sans-serif'>Marsha Moon</text>
<line x1="672.94" y1="208.60" x2="672.94" y2="210.10" stroke="#8a8a8a" stroke-width="0.6"/>
<rect x="684.65" y="125.46" width="6.70" height="83.14" fill="url(#barr)" stroke="none" stroke-width="1" />
<text transform="translate(689.50,212.10) rotate(-90)" font-size="4.7" text-anchor="end" fill="#000" font-family='"Liberation Sans", sans-serif'>Harvey</text>
<line x1="682.98" y1="208.60" x2="682.98" y2="210.10" stroke="#8a8a8a" stroke-width="0.6"/>
<rect x="694.69" y="167.03" width="6.70" height="41.57" fill="url(#barr)" stroke="none" stroke-width="1" />
<text transform="translate(699.54,212.10) rotate(-90)" font-size="4.7" text-anchor="end" fill="#000" font-family='"Liberation Sans", sans-serif'>Dalia</text>
<line x1="693.02" y1="208.60" x2="693.02" y2="210.10" stroke="#8a8a8a" stroke-width="0.6"/>
<rect x="704.73" y="153.17" width="6.70" height="55.43" fill="url(#barr)" stroke="none" stroke-width="1" />
<text transform="translate(709.58,212.10) rotate(-90)" font-size="4.7" text-anchor="end" fill="#000" font-family='"Liberation Sans", sans-serif'>Flynn Lo</text>
<line x1="703.06" y1="208.60" x2="703.06" y2="210.10" stroke="#8a8a8a" stroke-width="0.6"/>
<text x="646.40" y="105.90" font-size="5.0" text-anchor="middle" fill="#4a4a4a" font-weight="normal" font-family='"Liberation Sans", sans-serif' >SICK DAYS:</text>
<path d="M16.80 356.90 L16.80 303.70 A53.2 53.2 0 0 1 45.46 312.08 Z" fill="#4573b0" stroke="#fff" stroke-opacity="0.3" stroke-width="0.7" stroke-linejoin="round"/>
<path d="M16.80 356.90 L45.46 312.08 A53.2 53.2 0 0 1 69.60 350.42 Z" fill="#bb4643" stroke="#fff" stroke-opacity="0.3" stroke-width="0.7" stroke-linejoin="round"/>
<path d="M16.80 356.90 L69.60 350.42 A53.2 53.2 0 0 1 68.93 367.51 Z" fill="#96b655" stroke="#fff" stroke-opacity="0.3" stroke-width="0.7" stroke-linejoin="round"/>
<path d="M16.80 356.90 L68.93 367.51 A53.2 53.2 0 0 1 55.71 393.18 Z" fill="#7b5ea0" stroke="#fff" stroke-opacity="0.3" stroke-width="0.7" stroke-linejoin="round"/>
<path d="M16.80 356.90 L55.71 393.18 A53.2 53.2 0 0 1 29.67 408.52 Z" fill="#41a6c2" stroke="#fff" stroke-opacity="0.3" stroke-width="0.7" stroke-linejoin="round"/>
<path d="M16.80 356.90 L29.67 408.52 A53.2 53.2 0 0 1 -21.47 393.86 Z" fill="#ee8a3d" stroke="#fff" stroke-opacity="0.3" stroke-width="0.7" stroke-linejoin="round"/>
<path d="M16.80 356.90 L-21.47 393.86 A53.2 53.2 0 0 1 -34.34 371.56 Z" fill="#a3b6da" stroke="#fff" stroke-opacity="0.3" stroke-width="0.7" stroke-linejoin="round"/>
<path d="M16.80 356.90 L-34.34 371.56 A53.2 53.2 0 0 1 -25.97 325.26 Z" fill="#d9a09f" stroke="#fff" stroke-opacity="0.3" stroke-width="0.7" stroke-linejoin="round"/>
<path d="M16.80 356.90 L-25.97 325.26 A53.2 53.2 0 0 1 16.80 303.70 Z" fill="#c4d89f" stroke="#fff" stroke-opacity="0.3" stroke-width="0.7" stroke-linejoin="round"/>
<circle cx="16.8" cy="356.9" r="53.2" fill="url(#pieshade)"/>
<path d="M226.80 356.90 L226.80 303.70 A53.2 53.2 0 0 1 243.59 306.42 Z" fill="#4573b0" stroke="#fff" stroke-opacity="0.3" stroke-width="0.7" stroke-linejoin="round"/>
<path d="M226.80 356.90 L243.59 306.42 A53.2 53.2 0 0 1 271.32 327.77 Z" fill="#bb4643" stroke="#fff" stroke-opacity="0.3" stroke-width="0.7" stroke-linejoin="round"/>
<path d="M226.80 356.90 L271.32 327.77 A53.2 53.2 0 0 1 276.92 339.05 Z" fill="#96b655" stroke="#fff" stroke-opacity="0.3" stroke-width="0.7" stroke-linejoin="round"/>
<path d="M226.80 356.90 L276.92 339.05 A53.2 53.2 0 0 1 279.99 355.97 Z" fill="#7b5ea0" stroke="#fff" stroke-opacity="0.3" stroke-width="0.7" stroke-linejoin="round"/>
<path d="M226.80 356.90 L279.99 355.97 A53.2 53.2 0 0 1 277.68 372.45 Z" fill="#41a6c2" stroke="#fff" stroke-opacity="0.3" stroke-width="0.7" stroke-linejoin="round"/>
<path d="M226.80 356.90 L277.68 372.45 A53.2 53.2 0 0 1 257.54 400.32 Z" fill="#ee8a3d" stroke="#fff" stroke-opacity="0.3" stroke-width="0.7" stroke-linejoin="round"/>
<path d="M226.80 356.90 L257.54 400.32 A53.2 53.2 0 0 1 237.32 409.05 Z" fill="#a3b6da" stroke="#fff" stroke-opacity="0.3" stroke-width="0.7" stroke-linejoin="round"/>
<path d="M226.80 356.90 L237.32 409.05 A53.2 53.2 0 0 1 203.81 404.88 Z" fill="#d9a09f" stroke="#fff" stroke-opacity="0.3" stroke-width="0.7" stroke-linejoin="round"/>
<path d="M226.80 356.90 L203.81 404.88 A53.2 53.2 0 0 1 226.80 303.70 Z" fill="#c4d89f" stroke="#fff" stroke-opacity="0.3" stroke-width="0.7" stroke-linejoin="round"/>
<circle cx="226.8" cy="356.9" r="53.2" fill="url(#pieshade)"/>
<path d="M436.10 356.90 L436.10 303.70 A53.2 53.2 0 0 1 481.41 329.02 Z" fill="#4573b0" stroke="#fff" stroke-opacity="0.3" stroke-width="0.7" stroke-linejoin="round"/>
<path d="M436.10 356.90 L481.41 329.02 A53.2 53.2 0 0 1 471.14 396.93 Z" fill="#bb4643" stroke="#fff" stroke-opacity="0.3" stroke-width="0.7" stroke-linejoin="round"/>
<path d="M436.10 356.90 L471.14 396.93 A53.2 53.2 0 0 1 451.48 407.83 Z" fill="#96b655" stroke="#fff" stroke-opacity="0.3" stroke-width="0.7" stroke-linejoin="round"/>
<path d="M436.10 356.90 L451.48 407.83 A53.2 53.2 0 0 1 407.91 402.02 Z" fill="#7b5ea0" stroke="#fff" stroke-opacity="0.3" stroke-width="0.7" stroke-linejoin="round"/>
<path d="M436.10 356.90 L407.91 402.02 A53.2 53.2 0 0 1 390.98 385.09 Z" fill="#41a6c2" stroke="#fff" stroke-opacity="0.3" stroke-width="0.7" stroke-linejoin="round"/>
<path d="M436.10 356.90 L390.98 385.09 A53.2 53.2 0 0 1 383.06 360.98 Z" fill="#ee8a3d" stroke="#fff" stroke-opacity="0.3" stroke-width="0.7" stroke-linejoin="round"/>
<path d="M436.10 356.90 L383.06 360.98 A53.2 53.2 0 0 1 390.79 329.02 Z" fill="#a3b6da" stroke="#fff" stroke-opacity="0.3" stroke-width="0.7" stroke-linejoin="round"/>
<path d="M436.10 356.90 L390.79 329.02 A53.2 53.2 0 0 1 434.52 303.72 Z" fill="#d9a09f" stroke="#fff" stroke-opacity="0.3" stroke-width="0.7" stroke-linejoin="round"/>
<path d="M436.10 356.90 L434.52 303.72 A53.2 53.2 0 0 1 436.10 303.70 Z" fill="#c4d89f" stroke="#fff" stroke-opacity="0.3" stroke-width="0.7" stroke-linejoin="round"/>
<circle cx="436.1" cy="356.9" r="53.2" fill="url(#pieshade)"/>
<path d="M645.70 356.90 L645.70 303.70 A53.2 53.2 0 0 1 675.91 313.11 Z" fill="#4573b0" stroke="#fff" stroke-opacity="0.3" stroke-width="0.7" stroke-linejoin="round"/>
<path d="M645.70 356.90 L675.91 313.11 A53.2 53.2 0 0 1 698.47 350.14 Z" fill="#bb4643" stroke="#fff" stroke-opacity="0.3" stroke-width="0.7" stroke-linejoin="round"/>
<path d="M645.70 356.90 L698.47 350.14 A53.2 53.2 0 0 1 698.17 365.68 Z" fill="#96b655" stroke="#fff" stroke-opacity="0.3" stroke-width="0.7" stroke-linejoin="round"/>
<path d="M645.70 356.90 L698.17 365.68 A53.2 53.2 0 0 1 678.01 399.16 Z" fill="#7b5ea0" stroke="#fff" stroke-opacity="0.3" stroke-width="0.7" stroke-linejoin="round"/>
<path d="M645.70 356.90 L678.01 399.16 A53.2 53.2 0 0 1 658.57 408.52 Z" fill="#41a6c2" stroke="#fff" stroke-opacity="0.3" stroke-width="0.7" stroke-linejoin="round"/>
<path d="M645.70 356.90 L658.57 408.52 A53.2 53.2 0 0 1 616.73 401.52 Z" fill="#ee8a3d" stroke="#fff" stroke-opacity="0.3" stroke-width="0.7" stroke-linejoin="round"/>
<path d="M645.70 356.90 L616.73 401.52 A53.2 53.2 0 0 1 594.31 370.67 Z" fill="#a3b6da" stroke="#fff" stroke-opacity="0.3" stroke-width="0.7" stroke-linejoin="round"/>
<path d="M645.70 356.90 L594.31 370.67 A53.2 53.2 0 0 1 601.54 327.23 Z" fill="#d9a09f" stroke="#fff" stroke-opacity="0.3" stroke-width="0.7" stroke-linejoin="round"/>
<path d="M645.70 356.90 L601.54 327.23 A53.2 53.2 0 0 1 645.70 303.70 Z" fill="#c4d89f" stroke="#fff" stroke-opacity="0.3" stroke-width="0.7" stroke-linejoin="round"/>
<circle cx="645.7" cy="356.9" r="53.2" fill="url(#pieshade)"/>
<text x="45.50" y="289.10" font-size="4.6" text-anchor="middle" fill="#333" font-weight="normal" font-family='"Liberation Sans", sans-serif' >Accounting</text>
<text x="45.50" y="295.10" font-size="4.6" text-anchor="middle" fill="#333" font-weight="normal" font-family='"Liberation Sans", sans-serif' >$975,000</text>
<text x="45.50" y="301.10" font-size="4.6" text-anchor="middle" fill="#333" font-weight="normal" font-family='"Liberation Sans", sans-serif' >9%</text>
<text x="82.50" y="318.10" font-size="4.6" text-anchor="middle" fill="#333" font-weight="normal" font-family='"Liberation Sans", sans-serif' >Administration</text>
<text x="82.50" y="324.10" font-size="4.6" text-anchor="middle" fill="#333" font-weight="normal" font-family='"Liberation Sans", sans-serif' >$826,000</text>
<text x="82.50" y="330.10" font-size="4.6" text-anchor="middle" fill="#333" font-weight="normal" font-family='"Liberation Sans", sans-serif' >13%</text>
<text x="94.30" y="357.50" font-size="4.6" text-anchor="middle" fill="#333" font-weight="normal" font-family='"Liberation Sans", sans-serif' >Customer Support</text>
<text x="94.30" y="363.50" font-size="4.6" text-anchor="middle" fill="#333" font-weight="normal" font-family='"Liberation Sans", sans-serif' >$567,000</text>
<text x="94.30" y="369.50" font-size="4.6" text-anchor="middle" fill="#333" font-weight="normal" font-family='"Liberation Sans", sans-serif' >5%</text>
<text x="78.50" y="385.40" font-size="4.6" text-anchor="middle" fill="#333" font-weight="normal" font-family='"Liberation Sans", sans-serif' >Finance</text>
<text x="78.50" y="391.40" font-size="4.6" text-anchor="middle" fill="#333" font-weight="normal" font-family='"Liberation Sans", sans-serif' >$834,000</text>
<text x="78.50" y="397.40" font-size="4.6" text-anchor="middle" fill="#333" font-weight="normal" font-family='"Liberation Sans", sans-serif' >8%</text>
<text x="162.80" y="338.30" font-size="4.6" text-anchor="middle" fill="#333" font-weight="normal" font-family='"Liberation Sans", sans-serif' >Sales</text>
<text x="162.80" y="344.30" font-size="4.6" text-anchor="middle" fill="#333" font-weight="normal" font-family='"Liberation Sans", sans-serif' >$922,000</text>
<text x="162.80" y="350.30" font-size="4.6" text-anchor="middle" fill="#333" font-weight="normal" font-family='"Liberation Sans", sans-serif' >43%</text>
<text x="243.70" y="288.40" font-size="4.6" text-anchor="middle" fill="#333" font-weight="normal" font-family='"Liberation Sans", sans-serif' >Accounting</text>
<text x="243.70" y="294.40" font-size="4.6" text-anchor="middle" fill="#333" font-weight="normal" font-family='"Liberation Sans", sans-serif' >$56,540</text>
<text x="243.70" y="300.40" font-size="4.6" text-anchor="middle" fill="#333" font-weight="normal" font-family='"Liberation Sans", sans-serif' >5%</text>
<text x="278.00" y="299.60" font-size="4.6" text-anchor="middle" fill="#333" font-weight="normal" font-family='"Liberation Sans", sans-serif' >Administration</text>
<text x="278.00" y="305.60" font-size="4.6" text-anchor="middle" fill="#333" font-weight="normal" font-family='"Liberation Sans", sans-serif' >$96,525</text>
<text x="278.00" y="311.60" font-size="4.6" text-anchor="middle" fill="#333" font-weight="normal" font-family='"Liberation Sans", sans-serif' >10%</text>
<text x="298.20" y="323.10" font-size="4.6" text-anchor="middle" fill="#333" font-weight="normal" font-family='"Liberation Sans", sans-serif' >Customer Support</text>
<text x="298.20" y="329.10" font-size="4.6" text-anchor="middle" fill="#333" font-weight="normal" font-family='"Liberation Sans", sans-serif' >$29,005</text>
<text x="298.20" y="335.10" font-size="4.6" text-anchor="middle" fill="#333" font-weight="normal" font-family='"Liberation Sans", sans-serif' >3%</text>
<text x="292.00" y="341.60" font-size="4.6" text-anchor="middle" fill="#333" font-weight="normal" font-family='"Liberation Sans", sans-serif' >Finance</text>
<text x="292.00" y="347.60" font-size="4.6" text-anchor="middle" fill="#333" font-weight="normal" font-family='"Liberation Sans", sans-serif' >$53,830</text>
<text x="292.00" y="353.60" font-size="4.6" text-anchor="middle" fill="#333" font-weight="normal" font-family='"Liberation Sans", sans-serif' >5%</text>
<text x="303.00" y="363.20" font-size="4.6" text-anchor="middle" fill="#333" font-weight="normal" font-family='"Liberation Sans", sans-serif' >Human Resources</text>
<text x="303.00" y="369.20" font-size="4.6" text-anchor="middle" fill="#333" font-weight="normal" font-family='"Liberation Sans", sans-serif' >$58,370</text>
<text x="303.00" y="375.20" font-size="4.6" text-anchor="middle" fill="#333" font-weight="normal" font-family='"Liberation Sans", sans-serif' >5%</text>
<text x="283.80" y="393.60" font-size="4.6" text-anchor="middle" fill="#333" font-weight="normal" font-family='"Liberation Sans", sans-serif' >IT</text>
<text x="283.80" y="399.60" font-size="4.6" text-anchor="middle" fill="#333" font-weight="normal" font-family='"Liberation Sans", sans-serif' >$108,780</text>
<text x="283.80" y="405.60" font-size="4.6" text-anchor="middle" fill="#333" font-weight="normal" font-family='"Liberation Sans", sans-serif' >11%</text>
<text x="435.00" y="287.40" font-size="4.6" text-anchor="middle" fill="#333" font-weight="normal" font-family='"Liberation Sans", sans-serif' >Sales</text>
<text x="435.00" y="293.40" font-size="4.6" text-anchor="middle" fill="#333" font-weight="normal" font-family='"Liberation Sans", sans-serif' >$780</text>
<text x="435.00" y="299.40" font-size="4.6" text-anchor="middle" fill="#333" font-weight="normal" font-family='"Liberation Sans", sans-serif' >0%</text>
<text x="476.60" y="295.20" font-size="4.6" text-anchor="middle" fill="#333" font-weight="normal" font-family='"Liberation Sans", sans-serif' >Accounting</text>
<text x="476.60" y="301.20" font-size="4.6" text-anchor="middle" fill="#333" font-weight="normal" font-family='"Liberation Sans", sans-serif' >$26,480</text>
<text x="476.60" y="307.20" font-size="4.6" text-anchor="middle" fill="#333" font-weight="normal" font-family='"Liberation Sans", sans-serif' >16%</text>
<text x="397.40" y="295.20" font-size="4.6" text-anchor="middle" fill="#333" font-weight="normal" font-family='"Liberation Sans", sans-serif' >R&amp;D</text>
<text x="397.40" y="301.20" font-size="4.6" text-anchor="middle" fill="#333" font-weight="normal" font-family='"Liberation Sans", sans-serif' >$26,015</text>
<text x="397.40" y="307.20" font-size="4.6" text-anchor="middle" fill="#333" font-weight="normal" font-family='"Liberation Sans", sans-serif' >16%</text>
<text x="368.70" y="337.30" font-size="4.6" text-anchor="middle" fill="#333" font-weight="normal" font-family='"Liberation Sans", sans-serif' >Marketing</text>
<text x="368.70" y="343.30" font-size="4.6" text-anchor="middle" fill="#333" font-weight="normal" font-family='"Liberation Sans", sans-serif' >$16,300</text>
<text x="368.70" y="349.30" font-size="4.6" text-anchor="middle" fill="#333" font-weight="normal" font-family='"Liberation Sans", sans-serif' >10%</text>
<text x="371.40" y="373.10" font-size="4.6" text-anchor="middle" fill="#333" font-weight="normal" font-family='"Liberation Sans", sans-serif' >IT</text>
<text x="371.40" y="379.10" font-size="4.6" text-anchor="middle" fill="#333" font-weight="normal" font-family='"Liberation Sans", sans-serif' >$14,670</text>
<text x="371.40" y="385.10" font-size="4.6" text-anchor="middle" fill="#333" font-weight="normal" font-family='"Liberation Sans", sans-serif' >6%</text>
<text x="374.80" y="401.30" font-size="4.6" text-anchor="middle" fill="#333" font-weight="normal" font-family='"Liberation Sans", sans-serif' >Human Resources</text>
<text x="374.80" y="407.30" font-size="4.6" text-anchor="middle" fill="#333" font-weight="normal" font-family='"Liberation Sans", sans-serif' >$19,130</text>
<text x="374.80" y="413.30" font-size="4.6" text-anchor="middle" fill="#333" font-weight="normal" font-family='"Liberation Sans", sans-serif' >8%</text>
<text x="508.60" y="361.90" font-size="4.6" text-anchor="middle" fill="#333" font-weight="normal" font-family='"Liberation Sans", sans-serif' >Administration</text>
<text x="508.60" y="367.90" font-size="4.6" text-anchor="middle" fill="#333" font-weight="normal" font-family='"Liberation Sans", sans-serif' >$38,710</text>
<text x="508.60" y="373.90" font-size="4.6" text-anchor="middle" fill="#333" font-weight="normal" font-family='"Liberation Sans", sans-serif' >23%</text>
<text x="612.70" y="293.50" font-size="4.6" text-anchor="middle" fill="#333" font-weight="normal" font-family='"Liberation Sans", sans-serif' >Sales</text>
<text x="612.70" y="299.50" font-size="4.6" text-anchor="middle" fill="#333" font-weight="normal" font-family='"Liberation Sans", sans-serif' >51</text>
<text x="612.70" y="305.50" font-size="4.6" text-anchor="middle" fill="#333" font-weight="normal" font-family='"Liberation Sans", sans-serif' >15%</text>
<text x="675.00" y="290.10" font-size="4.6" text-anchor="middle" fill="#333" font-weight="normal" font-family='"Liberation Sans", sans-serif' >Accounting</text>
<text x="675.00" y="296.10" font-size="4.6" text-anchor="middle" fill="#333" font-weight="normal" font-family='"Liberation Sans", sans-serif' >35</text>
<text x="675.00" y="302.10" font-size="4.6" text-anchor="middle" fill="#333" font-weight="normal" font-family='"Liberation Sans", sans-serif' >10%</text>
<text x="584.00" y="341.30" font-size="4.6" text-anchor="middle" fill="#333" font-weight="normal" font-family='"Liberation Sans", sans-serif' >R&amp;D</text>
<text x="584.00" y="347.30" font-size="4.6" text-anchor="middle" fill="#333" font-weight="normal" font-family='"Liberation Sans", sans-serif' >47</text>
<text x="584.00" y="353.30" font-size="4.6" text-anchor="middle" fill="#333" font-weight="normal" font-family='"Liberation Sans", sans-serif' >14%</text>
<text x="587.40" y="393.80" font-size="4.6" text-anchor="middle" fill="#333" font-weight="normal" font-family='"Liberation Sans", sans-serif' >Marketing</text>
<text x="587.40" y="399.80" font-size="4.6" text-anchor="middle" fill="#333" font-weight="normal" font-family='"Liberation Sans", sans-serif' >45</text>
<text x="587.40" y="405.80" font-size="4.6" text-anchor="middle" fill="#333" font-weight="normal" font-family='"Liberation Sans", sans-serif' >13%</text>
<text x="133.00" y="288.90" font-size="10.6" text-anchor="start" fill="#2e2ec8" font-weight="bold" font-family='"Liberation Sans", sans-serif' textLength="28" lengthAdjust="spacingAndGlyphs">Bonus</text>
<line x1="133.00" y1="290.30" x2="161.00" y2="290.30" stroke="#2e2ec8" stroke-width="0.9"/>
<text x="341.80" y="288.90" font-size="10.6" text-anchor="start" fill="#2e2ec8" font-weight="bold" font-family='"Liberation Sans", sans-serif' textLength="43.8" lengthAdjust="spacingAndGlyphs">Overtime</text>
<line x1="341.80" y1="290.30" x2="385.60" y2="290.30" stroke="#2e2ec8" stroke-width="0.9"/>
<text x="552.00" y="288.90" font-size="10.6" text-anchor="start" fill="#2e2ec8" font-weight="bold" font-family='"Liberation Sans", sans-serif' textLength="42.2" lengthAdjust="spacingAndGlyphs">Sick Days</text>
<line x1="552.00" y1="290.30" x2="594.20" y2="290.30" stroke="#2e2ec8" stroke-width="0.9"/>
</svg>
</body></html>
